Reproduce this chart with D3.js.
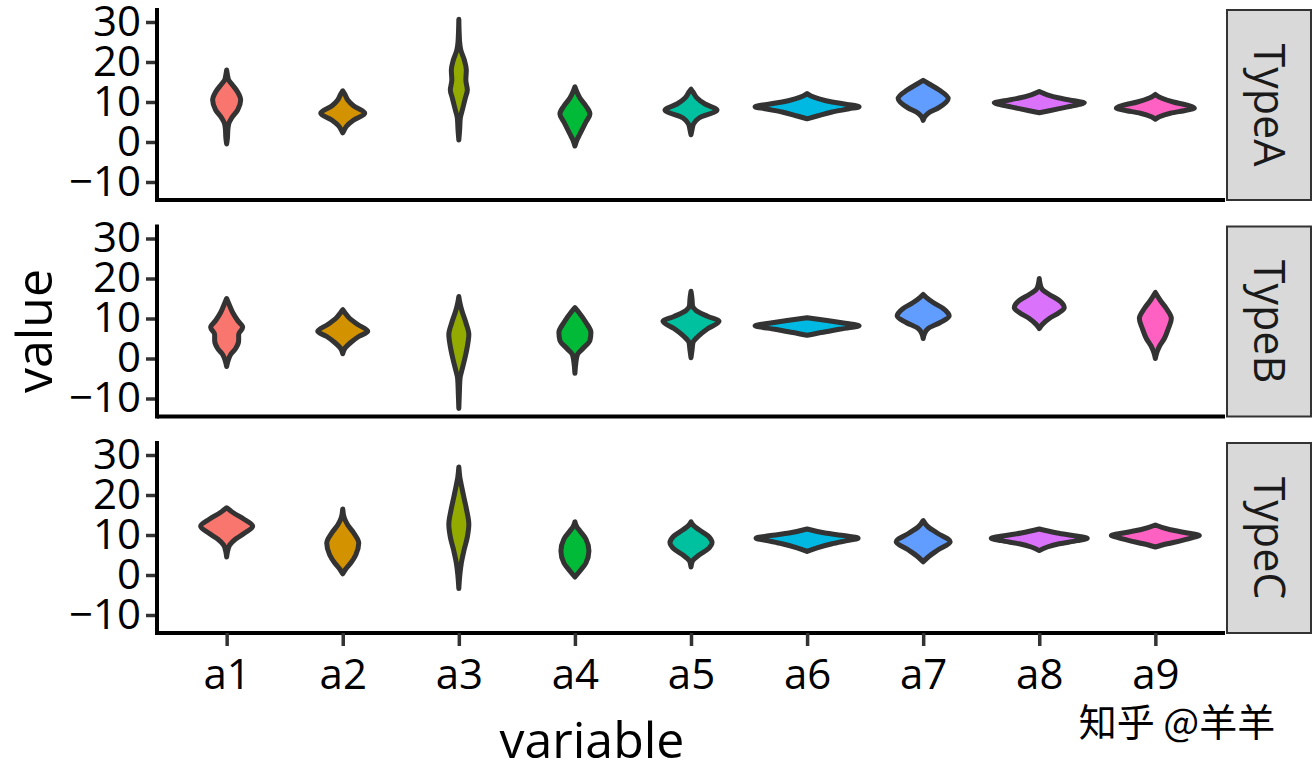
<!DOCTYPE html>
<html>
<head>
<meta charset="utf-8">
<script src="https://cdn.jsdelivr.net/npm/d3@7"></script>
<style>
  body { margin: 0; background: #fff; }
  svg { display: block; font-family: "Open Sans", "DejaVu Sans", sans-serif; font-weight: 500; }
</style>
</head>
<body>
<svg id="chart"></svg>
<script>
// categories, facets and fill colours
const categories = ["a1", "a2", "a3", "a4", "a5", "a6", "a7", "a8", "a9"];
const panels = ["TypeA", "TypeB", "TypeC"];
const fills = ["#F8766D", "#D39200", "#93AA00", "#00BA38", "#00C19F", "#00B9E3", "#619CFF", "#DB72FB", "#FF61C3"];
const yTicks = [-10, 0, 10, 20, 30];

// violin outlines: [value, density] from bottom to top
const typeA = [
    [[-0.5,0],[1,0.8],[3,1.2],[4.5,2],[6,5],[8,11],[10.5,14],[12.5,11],[14.2,6],[15.5,2],[16.5,1],[18,0]],
    [[2.3,0],[3,1.5],[4,4],[5.5,11],[7.2,22],[9,11],[10.5,5],[12,2],[12.8,0]],
    [[0.5,0],[3,0.8],[6,1.5],[8,3.5],[11,6.5],[13,8.5],[15.5,7],[18,7.5],[20.5,5.5],[23,2],[25,0.8],[30.7,0]],
    [[-1,0],[0.5,2],[2,5],[3.5,8],[5,11],[7,15],[9,11],[11,5],[12.5,2],[13.8,0]],
    [[1.8,0],[3,1],[4.5,2.5],[6,8],[8,26],[9.5,14],[11,6],[12.5,2],[13.2,0]],
    [[5.8,0],[6.5,10],[7.5,25],[8.3,42],[8.8,52],[9.4,40],[10,25],[10.8,12],[11.5,4],[12.1,0]],
    [[5.4,0],[6.3,1.5],[7.2,5],[8.5,15],[10.9,25],[13,16],[14.5,6],[15.4,0]],
    [[7.3,0],[7.8,10],[8.6,25],[9.4,40],[9.8,45],[10.3,35],[11,20],[11.8,8],[12.6,0]],
    [[5.7,0],[6.3,4],[7.2,15],[8,32],[8.5,39],[9.2,32],[10,18],[11,6],[11.9,0]]
];
const typeB = [
    [[-2,0],[-0.5,1.5],[1,4],[2.5,9],[4.5,12],[6,12],[7.8,16],[9.5,11],[11.5,6],[13.5,2.5],[15,0]],
    [[1.2,0],[2.5,2],[4,8],[5.5,16],[6.8,25],[8.5,15],[10,7],[11.5,2],[12.2,0]],
    [[-12.5,0],[-9,0.5],[-5,1.2],[-3,3],[0,6],[3,8.5],[6,10],[9,7],[12,3],[14,1],[15.5,0]],
    [[-3.7,0],[-1,1],[1,2.5],[2.5,8],[4.5,15],[6.5,16],[9,11],[11.5,4],[12.7,0]],
    [[0.2,0],[2,1],[4,2],[5.5,7],[7.5,17],[9.3,28],[10.5,17],[12,5],[13.2,1.5],[15,1],[16.8,0]],
    [[5.8,0],[6.5,14],[7.3,32],[8.2,52],[8.8,38],[9.5,20],[10.2,0]],
    [[5,0],[6.3,1.5],[7.5,5],[9,17],[10.6,26],[12.5,20],[14,10],[15.3,3],[16,0]],
    [[7.5,0],[8.5,3],[10,10],[11.5,20],[12.7,25],[14.5,20],[16,10],[17.3,3],[18.5,1],[20,0]],
    [[0,0],[1.5,1.5],[3,4],[5,9],[7.5,13],[10,16],[12.5,11],[14.5,5],[16.5,0]]
];
const typeC = [
    [[4.5,0],[6,1],[7.5,3],[9,9],[10.5,18],[12.2,26],[14,17],[15.5,7],[16.8,0]],
    [[0.3,0],[1.5,3],[3,8],[5,13],[8,16],[10.5,11],[12.5,5],[14.3,1.5],[16.5,0]],
    [[-3.4,0],[0,1],[3,2.5],[6,5],[9.5,8.5],[12.7,10],[16,8],[19.5,5],[22.5,2.5],[24.5,1],[27,0]],
    [[-0.5,0],[1,5],[3,11],[6,14],[9,11],[11,5],[12,2],[13.3,0]],
    [[2,0],[3.5,1.5],[5,8],[6.5,17],[8.1,21],[9.8,17],[11.3,8],[12.5,2],[13.3,0]],
    [[5.9,0],[6.8,10],[7.8,25],[8.6,40],[9.2,51],[9.8,38],[10.5,18],[11.5,0]],
    [[3.3,0],[4.5,5],[6.3,15],[8.3,27],[10.5,14],[12,5],[13.6,0]],
    [[6.1,0],[7,8],[7.8,20],[8.6,38],[9.2,48],[9.8,35],[10.5,18],[11.5,0]],
    [[7,0],[7.8,12],[8.6,26],[9.4,38],[9.9,44],[10.5,32],[11.3,15],[12.5,0]]
];
const violinSets = [typeA, typeB, typeC];

const W = 1314, H = 772;
const left = 157, right = 1225;
const stripW = 86;
const panelH = 190, panelGap = 26.5, top0 = 10;
const font = "'Open Sans', 'DejaVu Sans', sans-serif";

const svg = d3.select("#chart")
    .attr("width", W)
    .attr("height", H);

// discrete x scale with ggplot-like 0.6 expansion
const x = d3.scalePoint()
    .domain(categories)
    .range([left, right])
    .padding(0.6);
const step = x.step();

const y = d3.scaleLinear()
    .domain([-14.5, 33])
    .range([panelH, 0]);

// density -> half width in px
const w = d3.scaleLinear()
    .domain([0, 58])
    .range([0, step / 2]);

panels.forEach((name, pi) => {
    const py = top0 + pi * (panelH + panelGap);
    const g = svg.append("g").attr("transform", `translate(0,${py})`);

    // violins
    violinSets[pi].forEach((prof, ci) => {
        const cx = x(categories[ci]);
        const area = d3.area()
            .y(d => y(d[0]))
            .x0(d => cx - w(d[1]))
            .x1(d => cx + w(d[1]))
            .curve(d3.curveMonotoneY);
        g.append("path")
            .datum(prof)
            .attr("d", area)
            .attr("fill", fills[ci])
            .attr("stroke", "#333333")
            .attr("stroke-width", 5)
            .attr("stroke-linejoin", "round");
    });

    // y axis
    const yAxis = d3.axisLeft(y)
        .tickValues(yTicks)
        .tickSize(11)
        .tickSizeOuter(0)
        .tickPadding(5);
    const ya = g.append("g")
        .attr("transform", `translate(${left},0)`)
        .call(yAxis)
        .attr("font-family", font)
        .attr("font-size", 42);
    ya.select(".domain").remove();
    ya.selectAll(".tick line").attr("stroke", "#333333").attr("stroke-width", 3.5);
    ya.selectAll(".tick text").attr("fill", "#000");

    // axis lines
    g.append("line")
        .attr("x1", left).attr("x2", left)
        .attr("y1", 0).attr("y2", panelH)
        .attr("stroke", "#000").attr("stroke-width", 4)
        .attr("stroke-linecap", "square");
    g.append("line")
        .attr("x1", left).attr("x2", right)
        .attr("y1", panelH).attr("y2", panelH)
        .attr("stroke", "#000").attr("stroke-width", 4);

    // x axis only under the last panel
    if (pi === panels.length - 1) {
        const xAxis = d3.axisBottom(x)
            .tickSize(13)
            .tickSizeOuter(0)
            .tickPadding(13);
        const xa = g.append("g")
            .attr("transform", `translate(0,${panelH})`)
            .call(xAxis)
            .attr("font-family", font)
            .attr("font-size", 42);
        xa.select(".domain").remove();
        xa.selectAll(".tick line").attr("stroke", "#333333").attr("stroke-width", 3.5);
        xa.selectAll(".tick text").attr("fill", "#000");
    }

    // facet strip
    g.append("rect")
        .attr("x", right + 2)
        .attr("y", 0)
        .attr("width", stripW - 2)
        .attr("height", panelH)
        .attr("fill", "#d9d9d9")
        .attr("stroke", "#333333")
        .attr("stroke-width", 2);
    g.append("text")
        .attr("transform", `translate(${right + 1 + stripW / 2},${panelH / 2}) rotate(90)`)
        .attr("text-anchor", "middle")
        .attr("dy", "0.35em")
        .style("font-size", "43px")
        .attr("fill", "#1a1a1a")
        .text(name);
});

// axis titles
svg.append("text")
    .attr("x", 592)
    .attr("y", 758)
    .attr("text-anchor", "middle")
    .style("font-size", "50px")
    .text("variable");

svg.append("text")
    .attr("transform", "rotate(-90)")
    .attr("x", -331)
    .attr("y", 52)
    .attr("text-anchor", "middle")
    .style("font-size", "50px")
    .text("value");

// watermark
svg.append("text")
    .attr("x", 1177)
    .attr("y", 736)
    .attr("text-anchor", "middle")
    .style("font-family", "'Noto Sans CJK SC', sans-serif")
    .style("font-size", "38px")
    .style("font-weight", 400)
    .attr("fill", "#000")
    .attr("stroke", "#fff")
    .attr("stroke-width", 3)
    .attr("paint-order", "stroke")
    .text("知乎 @羊羊");
</script>
</body>
</html>
